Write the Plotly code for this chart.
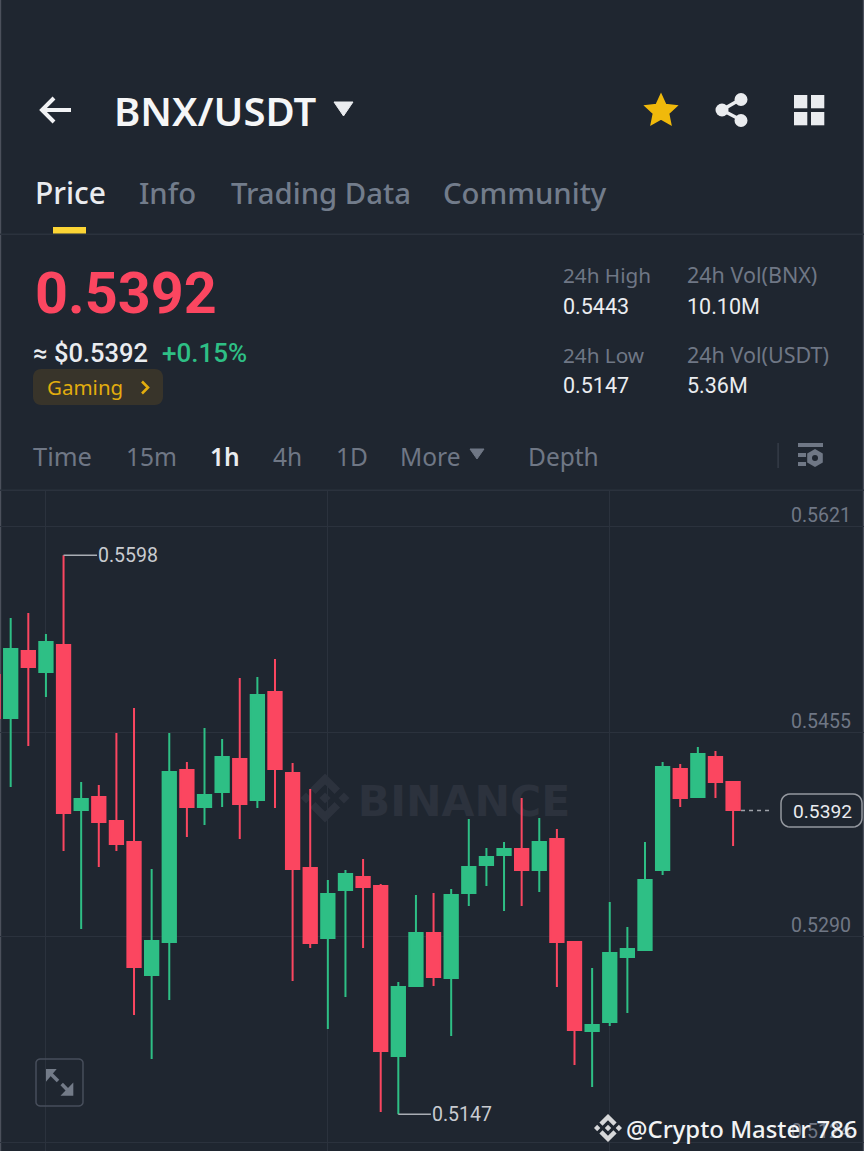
import math
import plotly.graph_objects as go

W, H = 864, 1151
BG = "#1f2630"
GRID = "#2b323d"
GREEN = "#2ebf85"
RED = "#fb4660"
MUTED = "#6f7785"
TAB = "#727c8b"
LIGHT = "#eaecef"

# ---- data ----
index = list(range(-1, 42))
opens = [0.55014, 0.54667, 0.55208, 0.55038, 0.55256, 0.53925, 0.54029, 0.53836, 0.53666, 0.52593,
         0.52859, 0.54247, 0.53949, 0.5407, 0.54336, 0.54005, 0.54877, 0.54223, 0.53456, 0.52892,
         0.53279, 0.53384, 0.53311, 0.51939, 0.52504, 0.52932, 0.52569, 0.53255, 0.53481, 0.53561,
         0.5361, 0.5344, 0.53691, 0.52859, 0.52141, 0.52214, 0.52738, 0.52795, 0.5344, 0.54255,
         0.54029, 0.54352, 0.54151]
highs = [0.5530, 0.55474, 0.55514, 0.55345, 0.5598, 0.54151, 0.54126, 0.54546, 0.54748, 0.53448,
         0.54546, 0.54312, 0.54586, 0.54498, 0.5499, 0.54998, 0.55143, 0.54304, 0.54094, 0.5336,
         0.5344, 0.53529, 0.53327, 0.52537, 0.53239, 0.53255, 0.53287, 0.53852, 0.53618, 0.53666,
         0.54021, 0.5386, 0.53771, 0.52859, 0.5265, 0.53182, 0.5298, 0.53666, 0.54312, 0.54296,
         0.54433, 0.54401, 0.54151]
lows = [0.5440, 0.5411, 0.54441, 0.54836, 0.53594, 0.52964, 0.53465, 0.53594, 0.5227, 0.51915,
        0.52391, 0.53707, 0.53804, 0.53949, 0.53691, 0.53941, 0.53941, 0.52545, 0.52811, 0.52157,
        0.52415, 0.52811, 0.51487, 0.5147, 0.52504, 0.52504, 0.52101, 0.5315, 0.53311, 0.5311,
        0.5315, 0.53263, 0.52496, 0.51867, 0.51689, 0.52181, 0.52286, 0.52795, 0.534, 0.53949,
        0.54021, 0.54021, 0.53634]
closes = [0.54667, 0.55224, 0.55079, 0.5528, 0.539, 0.54013, 0.53828, 0.5365, 0.52658, 0.52867,
          0.54231, 0.53949, 0.54046, 0.54352, 0.53973, 0.54853, 0.54255, 0.53448, 0.52851, 0.53247,
          0.53408, 0.53303, 0.5198, 0.52496, 0.52932, 0.52577, 0.53239, 0.53465, 0.53545, 0.5361,
          0.5344, 0.53666, 0.52859, 0.52149, 0.5219, 0.52771, 0.52803, 0.5336, 0.54272, 0.54021,
          0.54376, 0.54151, 0.53925]

price_ticks = [0.5621, 0.5455, 0.5290, 0.5124]
time_grid = [2, 18, 34]
x_range = [-0.607, 48.43]
y_range = [0.51173, 0.56507]
day_high = 0.5598
day_high_i = 3
day_low = 0.5147
day_low_i = 22
last_price = 0.5392
last_i = 41


def px(x):
    return x / W


def py(y):
    return 1 - y / H


shapes = []
ann = []


def text(x, y, s, size, color, family="Noto Sans", weight=400, anchor="left"):
    ann.append(dict(xref="paper", yref="paper", x=px(x), y=py(y), text=s, showarrow=False,
                    xanchor=anchor, yanchor="middle", borderpad=0, borderwidth=0,
                    font=dict(family=family, size=size, color=color, weight=weight)))


def poly(points, color=None, line=None, lw=0, close=True, layer="above"):
    d = "M " + " L ".join(f"{px(a):.5f},{py(b):.5f}" for a, b in points) + (" Z" if close else "")
    shapes.append(dict(type="path", xref="paper", yref="paper", path=d, layer=layer,
                       fillcolor=color if color else "rgba(0,0,0,0)",
                       line=dict(color=line if line else "rgba(0,0,0,0)", width=lw)))


def rect(x0, y0, x1, y1, color, layer="above"):
    shapes.append(dict(type="rect", xref="paper", yref="paper", x0=px(x0), x1=px(x1), y0=py(y0), y1=py(y1),
                       fillcolor=color, line=dict(width=0), layer=layer))


def circle(cx, cy, r, color):
    shapes.append(dict(type="circle", xref="paper", yref="paper", x0=px(cx - r), x1=px(cx + r),
                       y0=py(cy - r), y1=py(cy + r), fillcolor=color, line=dict(width=0)))


def rrect(x0, y0, x1, y1, r, fill, stroke=None, lw=0):
    pts = []
    for cx, cy, a0 in ((x1 - r, y0 + r, -90), (x1 - r, y1 - r, 0), (x0 + r, y1 - r, 90), (x0 + r, y0 + r, 180)):
        for k in range(7):
            a = math.radians(a0 + 15 * k)
            pts.append((cx + r * math.cos(a), cy + r * math.sin(a)))
    poly(pts, color=fill, line=stroke, lw=lw)


LOGO = [
    [(38.73, 53.2), (63.32, 28.62), (87.92, 53.22), (102.22, 38.91), (63.32, 0), (24.42, 38.9)],
    [(0, 63.31), (14.3, 49), (28.61, 63.31), (14.3, 77.61)],
    [(38.73, 73.41), (63.32, 98), (87.92, 73.4), (102.23, 87.69), (63.33, 126.6), (24.42, 87.72)],
    [(98, 63.31), (112.3, 49), (126.61, 63.3), (112.3, 77.62)],
    [(77.83, 63.3), (63.32, 48.78), (48.81, 63.28), (63.32, 77.78)],
]


def logo(cx, cy, size, color, layer="above"):
    s = size / 126.61
    for p in LOGO:
        poly([(cx + (a - 63.3) * s, cy + (b - 63.3) * s) for a, b in p], color=color, layer=layer)


# ---- panel edges and rules ----
rect(0, 0, 1.2, H, "#4b505b", layer="below")
rect(W - 1.2, 0, W, H, "#4b505b", layer="below")
rect(0, 233.5, W, 235, GRID)
rect(0, 489.5, W, 491, GRID)

# ---- header ----
poly([(71, 110), (42, 110)], line="#f1f2f4", lw=4, close=False)
poly([(54, 98), (42, 110), (54, 122)], line="#f1f2f4", lw=4, close=False)
text(113.5, 111, "BNX/USDT", 40, "#f5f6f7", weight=600)
poly([(334, 102), (353, 102), (343.5, 116)], color=LIGHT, line=LIGHT, lw=1)
star = []
for k in range(10):
    r = 15.5 if k % 2 == 0 else 7.4
    a = math.radians(-90 + 36 * k)
    star.append((661 + r * math.cos(a), 111 + r * math.sin(a)))
poly(star, color="#f0b90b", line="#f0b90b", lw=2.5)
poly([(741, 99), (722, 110), (741, 120)], line=LIGHT, lw=3.5, close=False)
circle(722, 110, 6.5, LIGHT)
circle(741, 99.5, 6.5, LIGHT)
circle(741, 120.5, 6.5, LIGHT)
for x0 in (794, 811):
    for y0 in (95, 112):
        rect(x0, y0, x0 + 13.3, y0 + 13.3, LIGHT)

# ---- tabs ----
text(34.5, 193, "Price", 30, LIGHT, weight=500)
text(139, 193, "Info", 29.3, TAB, weight=500)
text(231, 193, "Trading Data", 29.3, TAB, weight=500)
text(443, 193, "Community", 29.3, TAB, weight=500)
rect(53, 227, 86, 233.5, "#fcd535")

# ---- price block ----
text(35, 294, "0.5392", 57.5, RED, family="Roboto", weight=700)
text(33, 353, "≈ $0.5392", 25.5, LIGHT, family="Roboto", weight=500)
text(162, 353, "+0.15%", 26, GREEN, family="Roboto", weight=500)
rrect(33, 369, 163, 405, 8, "#38342a")
text(47, 387, "Gaming", 20.5, "#e2ad0e")
poly([(142, 381.5), (148, 387.5), (142, 393.5)], line="#e2ad0e", lw=2.6, close=False)

for x, y, s, c, sz in [(563, 275, "24h High", MUTED, 20.7), (563, 306, "0.5443", LIGHT, 21.5),
                       (687, 274, "24h Vol(BNX)", MUTED, 21.5), (687, 306, "10.10M", LIGHT, 21.5),
                       (563, 355, "24h Low", MUTED, 20.7), (563, 386, "0.5147", LIGHT, 21.5),
                       (687, 354, "24h Vol(USDT)", MUTED, 21.5), (687, 385, "5.36M", LIGHT, 21.5)]:
    if c == LIGHT:
        text(x, y, s, sz, c, family="Roboto", weight=400)
    else:
        text(x, y, s, sz, c)

# ---- interval row ----
for x, s, sz in [(33, "Time", 25.5), (126, "15m", 24.5), (273, "4h", 24.5), (336, "1D", 24.5),
                 (400, "More", 24.5), (528, "Depth", 24.5)]:
    text(x, 456.5, s, sz, MUTED)
text(210, 456.5, "1h", 24.5, LIGHT, weight=600)
poly([(470, 449), (484, 449), (477, 459)], color=MUTED, line=MUTED, lw=1)
rect(777.5, 443, 778.7, 468, "#3a414d")
rect(798, 443, 823, 447, MUTED)
rect(798, 453, 806, 457, MUTED)
rect(798, 462, 806, 466, MUTED)
hexa = [(815 + 9 * math.cos(math.radians(30 + 60 * k)), 458 + 9 * math.sin(math.radians(30 + 60 * k))) for k in range(6)]
poly(hexa, color=MUTED)
circle(815, 458, 3, BG)

# ---- BINANCE watermark (under the candles) ----
logo(325, 798, 49, "#2c323d", layer="below")
shapes.append(dict(type="rect", xref="paper", yref="paper", x0=px(355), x1=px(573), y0=py(775), y1=py(820),
                   layer="below", fillcolor="rgba(0,0,0,0)", line=dict(width=0),
                   label=dict(text="BINANCE", textposition="middle center",
                              font=dict(family="DejaVu Sans", size=42.5, color="#2c323d", weight=700))))

# ---- expand button ----
ICON = "#737b88"
rrect(36, 1059, 83, 1106, 4, None, stroke="#474e5b", lw=1.5)
poly([(46, 1069), (56.7, 1069), (46, 1081.7)], color=ICON)
poly([(50, 1073), (58, 1081)], line=ICON, lw=3.5, close=False)
poly([(73.3, 1095.7), (73.3, 1082.5), (60.5, 1095.7)], color=ICON)
poly([(69, 1091.5), (61.7, 1084)], line=ICON, lw=3.5, close=False)

# ---- price tick labels ----
for v in price_ticks:
    ann.append(dict(xref="paper", yref="y", x=px(852), y=v, yshift=-1, text=f"{v:.4f}", showarrow=False,
                    xanchor="right", yanchor="bottom", borderpad=0,
                    font=dict(family="Roboto", size=19.5, color=MUTED)))

# ---- high / low / last markers ----
LBL = "#c9ccd1"
shapes.append(dict(type="line", xref="x", yref="y", x0=day_high_i, x1=day_high_i + 1.9, y0=day_high, y1=day_high,
                   line=dict(color="#a9adb4", width=1.5)))
ann.append(dict(xref="x", yref="y", x=day_high_i + 1.9, y=day_high, text=f"{day_high:.4f}", showarrow=False,
                xanchor="left", yanchor="middle", borderpad=0,
                font=dict(family="Roboto", size=19.5, color=LBL)))
shapes.append(dict(type="line", xref="x", yref="y", x0=day_low_i, x1=day_low_i + 1.85, y0=day_low, y1=day_low,
                   line=dict(color="#a9adb4", width=1.5)))
ann.append(dict(xref="x", yref="y", x=day_low_i + 1.85, y=day_low, text=f"{day_low:.4f}", showarrow=False,
                xanchor="left", yanchor="middle", borderpad=0,
                font=dict(family="Roboto", size=19.5, color=LBL)))
shapes.append(dict(type="line", xref="x", yref="y", x0=last_i + 0.45, x1=last_i + 2.2, y0=last_price, y1=last_price,
                   line=dict(color="#9fa3aa", width=1.5, dash="4px,4px")))
rrect(781, 794, 862, 827, 9, BG, stroke="#94989f", lw=1.5)
ann.append(dict(xref="paper", yref="y", x=px(792), y=last_price, text=f"{last_price:.4f}", showarrow=False,
                xanchor="left", yanchor="middle", borderpad=0, yshift=-1,
                font=dict(family="Roboto", size=19.2, color=LIGHT)))

# ---- author stamp ----
logo(608, 1128, 28, "#d6d7d9")
text(625.5, 1128, "@Crypto Master 786", 23.9, "#f2f3f4", weight=500)

fig = go.Figure(go.Candlestick(
    x=index, open=opens, high=highs, low=lows, close=closes,
    increasing=dict(line=dict(color=GREEN, width=2), fillcolor=GREEN),
    decreasing=dict(line=dict(color=RED, width=2), fillcolor=RED),
    whiskerwidth=0, showlegend=False, hoverinfo="skip",
))
fig.update_layout(
    width=W, height=H, margin=dict(l=0, r=0, t=0, b=0),
    paper_bgcolor=BG, plot_bgcolor="rgba(0,0,0,0)", boxgap=0.245, boxgroupgap=0, showlegend=False,
    shapes=shapes, annotations=ann,
    xaxis=dict(range=x_range, domain=[0, 1], tickvals=time_grid, showticklabels=False, ticks="",
               showgrid=True, gridcolor=GRID, gridwidth=1, zeroline=False, showline=False,
               rangeslider=dict(visible=False), fixedrange=True),
    yaxis=dict(range=y_range, domain=[0, 1 - 490 / H], tickvals=price_ticks, showticklabels=False, ticks="",
               showgrid=True, gridcolor=GRID, gridwidth=1, zeroline=False, showline=False, fixedrange=True),
)
fig.write_html("out.html", config={"displayModeBar": False},
               post_script="document.body.style.margin='0';document.body.style.background='" + BG + "';")
